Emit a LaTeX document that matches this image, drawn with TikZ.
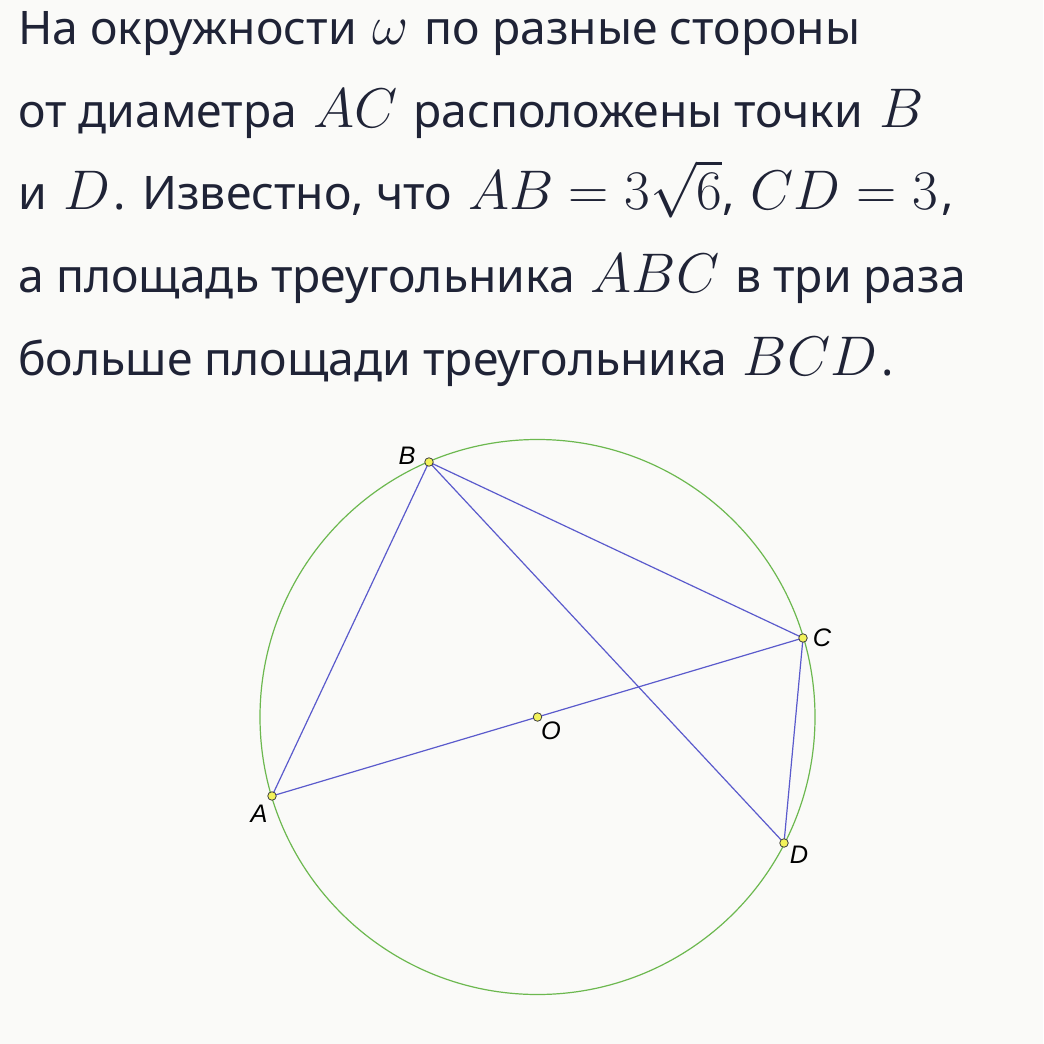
\documentclass[tikz,border=0pt]{standalone}
\usepackage{graphicx}
\usepackage[no-math]{fontspec}
\setmainfont{Noto Sans}
\newfontfamily\lblfont{Liberation Sans}
\newcommand\mgap{\hspace{3pt}}
\newcommand\Mth[1]{\smash{\scalebox{2.02}{\fontsize{20.74}{24}\selectfont$#1$}}}
\newcommand\M[1]{\mgap\Mth{#1}\mgap}
\newcommand\Ml[1]{\mgap\Mth{#1}}
\definecolor{bgc}{HTML}{FAFAF8}
\definecolor{txt}{HTML}{1F2336}
\definecolor{circ}{HTML}{6CB84F}
\definecolor{seg}{HTML}{5A5ACC}
\definecolor{ptfill}{HTML}{F2F25A}
\begin{document}
\begin{tikzpicture}[x=0.75pt,y=-0.75pt,
  line/.style={anchor=base west,inner sep=0,text=txt,font=\fontsize{34.7}{40}\selectfont},
  ptdot/.style={circle,inner sep=0,minimum size=6.4pt,fill=ptfill,draw=black!75,line width=0.6pt},
  lbl/.style={font=\lblfont\itshape\fontsize{19}{22}\selectfont,text=black,inner sep=0},
  segline/.style={draw=seg,line width=0.9pt},
  circline/.style={draw=circ,line width=0.9pt}]
\fill[bgc] (0,0) rectangle (1043,1044);
\useasboundingbox (0,0) rectangle (1043,1044);
\node[line] (t1) at (18,45) {На окружности \M{\omega} по разные стороны};
\node[line] (t2) at (18,128) {от диаметра \M{AC} расположены точки \Ml{B}};
\node[line] (t3) at (18,210) {и \Ml{D}\mgap. Известно, что \Ml{AB = 3\sqrt{6}}, \M{CD = 3},};
\node[line] (t4) at (18,293) {а площадь треугольника \M{ABC} в три раза};
\node[line] (t5) at (18,375) {больше площади треугольника \M{BCD}.};
\coordinate (O) at (537.5,717);
\coordinate (A) at (272,796);
\coordinate (B) at (429,462);
\coordinate (C) at (803,638);
\coordinate (D) at (784,843);
\draw[circline] (O) circle[radius=277.5];
\draw[segline] (A) -- (B) -- (C) -- (D) -- (B);
\draw[segline] (A) -- (C);
\foreach \p in {A,B,C,D,O} \node[ptdot] (d\p) at (\p) {};
\node[lbl] (lB) at (407,456) {B};
\node[lbl] (lC) at (822,638) {C};
\node[lbl] (lO) at (551,731) {O};
\node[lbl] (lA) at (259,814) {A};
\node[lbl] (lD) at (799,855) {D};
\end{tikzpicture}
\end{document}
